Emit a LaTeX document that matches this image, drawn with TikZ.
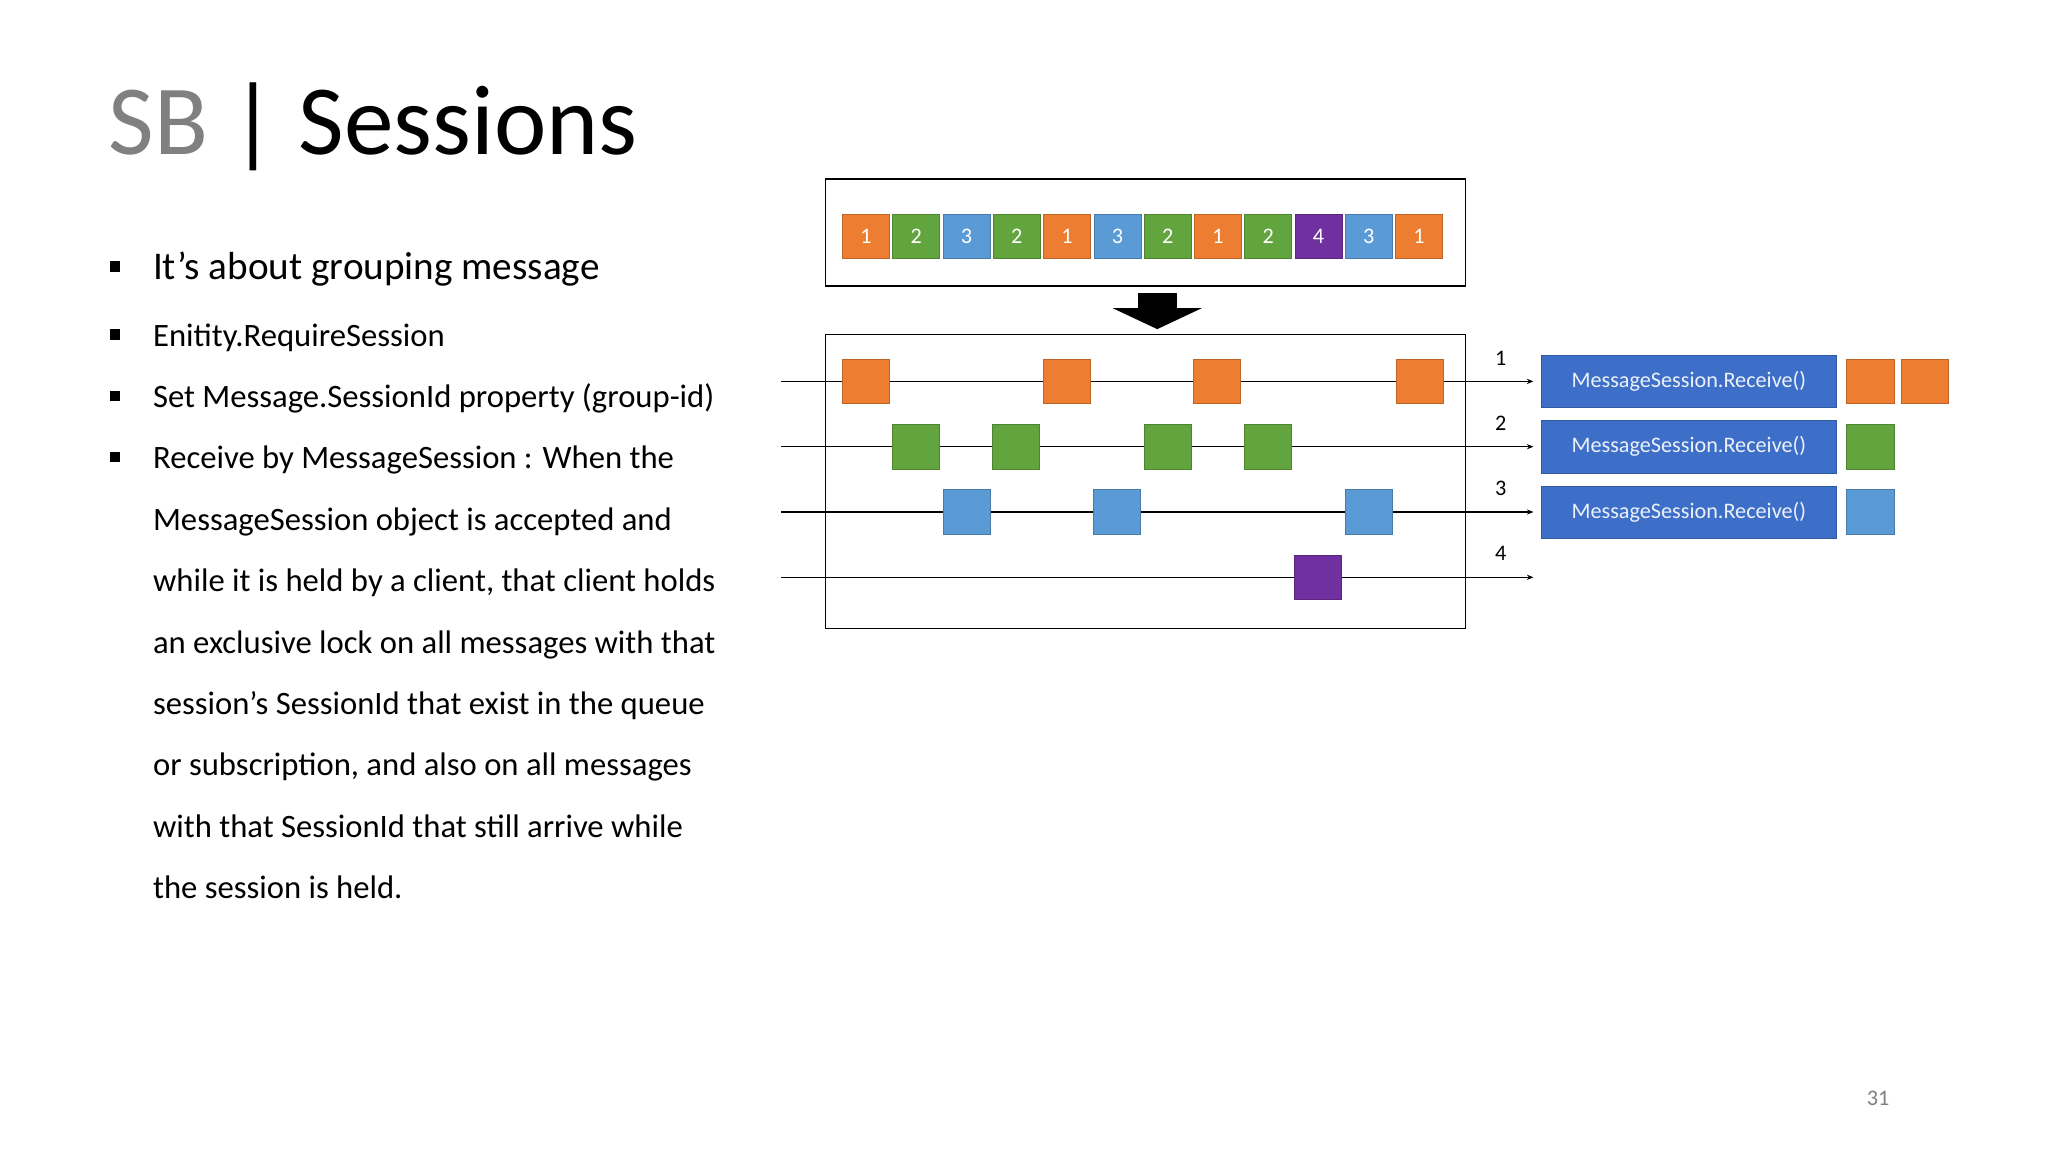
\documentclass[tikz,border=0pt]{standalone}
\usepackage{fontspec}
\setmainfont{Carlito}
\begin{document}
\begin{tikzpicture}[x=1pt,y=-1pt,
  sq/.style={minimum width=36pt,minimum height=34pt,inner sep=0pt,draw=#1!80!black,fill=#1,line width=0.6pt},
  num/.style={text=white,font=\fontsize{17}{17}\selectfont},
  lane/.style={line width=0.8pt,-{Stealth[length=5pt,width=4pt]}},
  recv/.style={fill=rblue,draw=rblue!80!black,minimum width=226pt,minimum height=40pt,inner sep=0pt,text=white!90!rblue,font=\fontsize{17}{17}\selectfont},
  bul/.style={anchor=base west,font=\fontsize{25}{25}\selectfont},
  lbl/.style={font=\fontsize{17}{17}\selectfont}]
\usetikzlibrary{arrows.meta}
\definecolor{orng}{HTML}{ED7D31}
\definecolor{grn}{HTML}{62A53F}
\definecolor{blu}{HTML}{5B9BD5}
\definecolor{prp}{HTML}{7030A0}
\definecolor{rblue}{HTML}{3D6FC8}
\useasboundingbox (0,0) rectangle (1568,882);
\fill[white] (0,0) rectangle (1568,882);
% title
\node[anchor=base west,inner sep=0pt,font=\fontsize{76}{76}\selectfont] (title) at (83,118) {\textcolor{gray}{SB} | Sessions};
% bullets
\node[bul,font=\fontsize{30}{30}\selectfont,inner sep=0pt] (b1) at (117,214) {It’s about grouping message};
\node[bul,inner sep=0pt] (b2) at (117,265) {Enitity.RequireSession};
\node[bul,inner sep=0pt] (b3) at (117,312) {Set Message.SessionId property (group-id)};
\node[bul,inner sep=0pt] (b4) at (117,359) {Receive by MessageSession : When the};
\foreach \t [count=\i] in {MessageSession object is accepted and,{while it is held by a client, that client holds},an exclusive lock on all messages with that,session's SessionId that exist in the queue,{or subscription, and also on all messages},with that SessionId that still arrive while,the session is held.}
  \node[bul,inner sep=0pt] (c\i) at (117,{359+47*\i}) {\t};
\foreach \y/\n in {204/s1,256/s2,303/s3,350/s4}
  \fill (84,\y-4) rectangle ++(8,8);
% top box
\node[draw,line width=1pt,minimum width=490pt,minimum height=82pt,inner sep=0pt] (top) at (877,178) {};
\foreach \c/\n [count=\i] in {orng/1,grn/2,blu/3,grn/2,orng/1,blu/3,grn/2,orng/1,grn/2,prp/4,blu/3,orng/1}
  \node[sq=\c,num] (t\i) at ({663+38.5*(\i-1)},181) {\n};
% arrow
\fill (871,224) rectangle (901,236);
\fill (852,236) -- (920,236) -- (886,252) -- cycle;
% lower box
\node[draw,line width=1pt,minimum width=490pt,minimum height=225pt,inner sep=0pt] (low) at (877,368.5) {};
\foreach \y/\i in {292/1,342/2,392/3,442/4}{
  \coordinate (s\i) at (598,\y);
  \coordinate (e\i) at (1174,\y);
  \draw[lane] (s\i) -- (e\i);
  \node[lbl] (n\i) at (1149,\y-18) {\i};
}
\foreach \x [count=\i] in {663,817,932,1087} \node[sq=orng] (o\i) at (\x,292) {};
\foreach \x [count=\i] in {701,778,894,971} \node[sq=grn] (g\i) at (\x,342) {};
\foreach \x [count=\i] in {740,855,1048} \node[sq=blu] (u\i) at (\x,392) {};
\node[sq=prp] (p1) at (1009,442) {};
% receivers
\foreach \y/\i in {292/1,342/2,392/3}
  \node[recv] (r\i) at (1293,\y) {MessageSession.Receive()};
\node[sq=orng] (ro1) at (1432,292) {};
\node[sq=orng] (ro2) at (1474,292) {};
\node[sq=grn] (rg1) at (1432,342) {};
\node[sq=blu] (rb1) at (1432,392) {};
% page number
\node[text=gray,font=\fontsize{17}{17}\selectfont] (pg) at (1438,841) {31};
\end{tikzpicture}
\end{document}
